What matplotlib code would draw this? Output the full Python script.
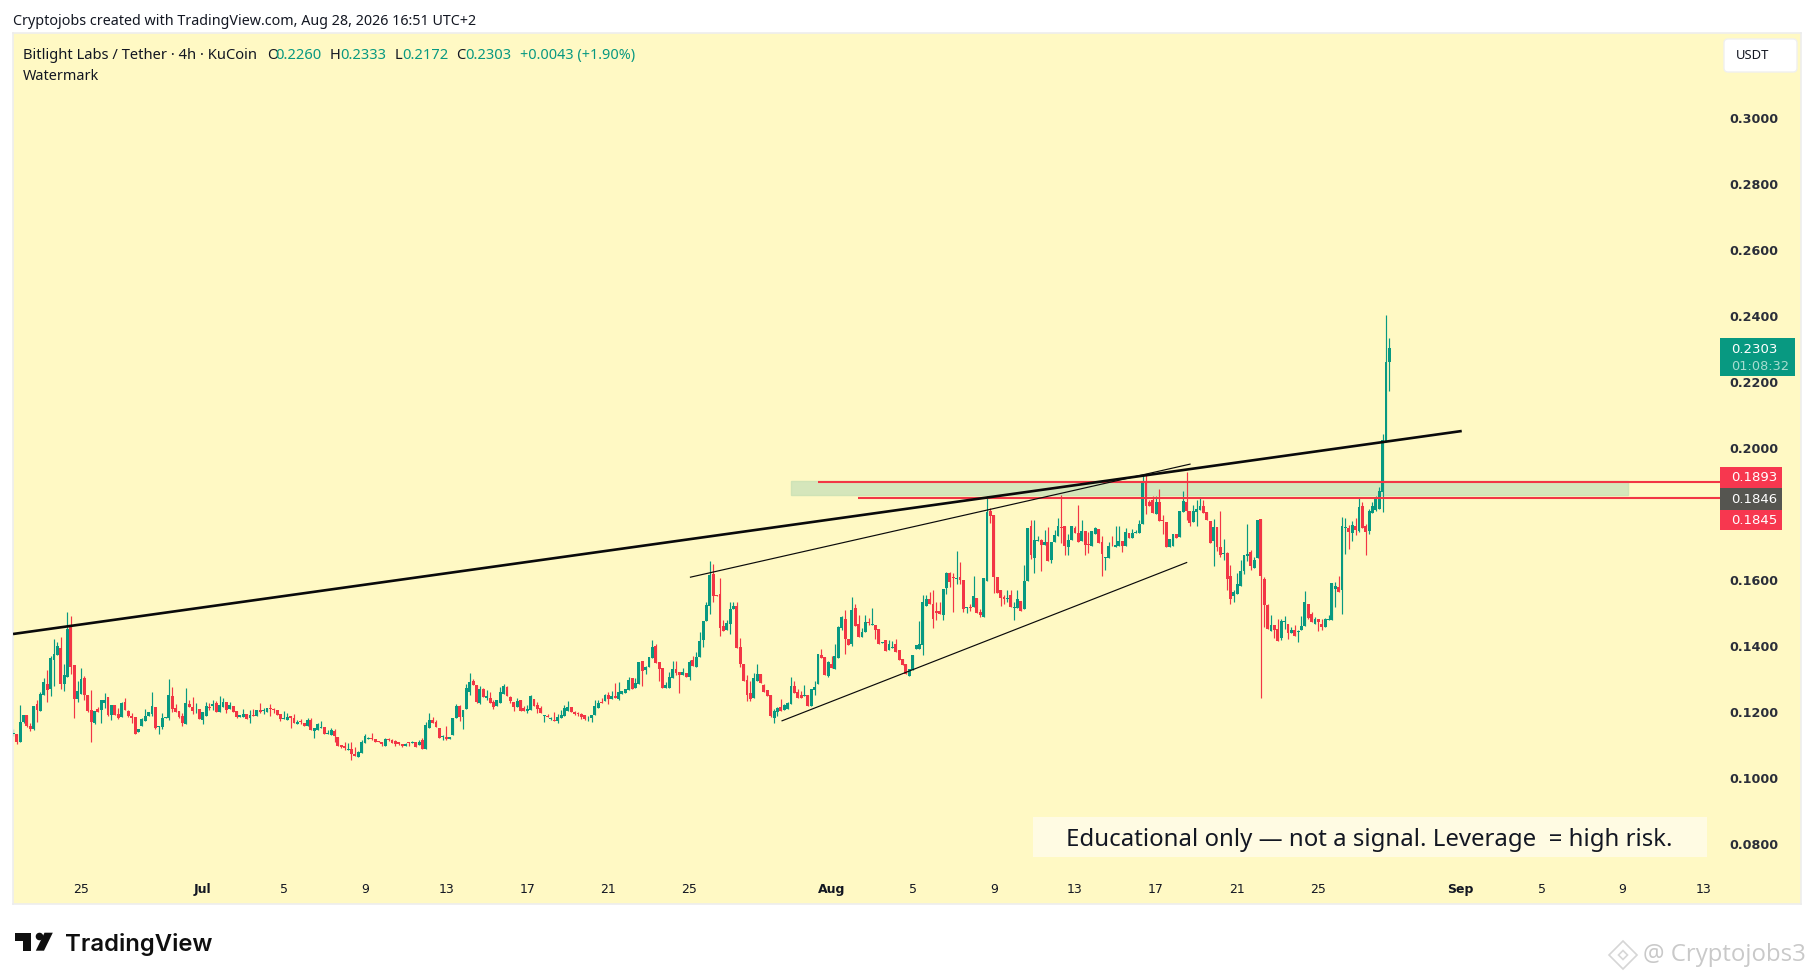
import numpy as np
import matplotlib
matplotlib.use("Agg")
import matplotlib.pyplot as plt
from matplotlib.patches import Rectangle, Polygon, Circle, FancyBboxPatch

# 4h candles, prices in units of 0.0001
OPENS = [
    1133,1133,1110,1168,1190,1157,1148,1224,1203,1251,
    1284,1269,1357,1373,1393,1284,1304,1461,1341,1239,
    1254,1302,1251,1206,1165,1209,1206,1228,1245,1190,
    1221,1193,1184,1230,1203,1188,1184,1139,1157,1171,
    1187,1193,1216,1155,1155,1182,1181,1248,1211,1203,
    1187,1163,1224,1215,1207,1209,1175,1187,1216,1218,
    1227,1199,1215,1230,1208,1218,1201,1184,1184,1193,
    1181,1190,1187,1206,1202,1199,1212,1209,1206,1193,
    1178,1175,1187,1181,1164,1172,1167,1157,1175,1143,
    1145,1152,1154,1134,1130,1142,1124,1099,1096,1085,
    1087,1072,1063,1075,1105,1119,1121,1118,1112,1107,
    1096,1118,1115,1112,1108,1102,1096,1108,1106,1107,
    1099,1115,1087,1151,1175,1169,1151,1125,1123,1118,
    1130,1181,1218,1184,1209,1260,1293,1281,1227,1269,
    1242,1242,1230,1218,1227,1254,1275,1245,1229,1215,
    1236,1212,1202,1205,1239,1221,1212,1187,1187,1178,
    1175,1172,1182,1187,1202,1215,1199,1196,1193,1190,
    1183,1181,1190,1212,1230,1233,1251,1240,1248,1239,
    1254,1256,1266,1302,1272,1284,1354,1327,1336,1363,
    1399,1351,1333,1272,1272,1302,1330,1321,1312,1318,
    1305,1357,1336,1366,1418,1475,1521,1618,1554,1557,
    1461,1448,1466,1512,1521,1395,1345,1296,1257,1242,
    1293,1315,1281,1266,1251,1182,1199,1215,1205,1209,
    1224,1278,1260,1251,1249,1251,1218,1266,1284,1372,
    1366,1309,1345,1330,1363,1454,1481,1421,1405,1515,
    1466,1427,1442,1472,1463,1463,1451,1408,1418,1387,
    1394,1405,1387,1359,1345,1309,1327,1390,1390,1402,
    1521,1542,1528,1505,1505,1493,1575,1621,1608,1601,
    1608,1599,1516,1518,1518,1545,1502,1487,1596,1808,
    1796,1608,1569,1548,1543,1554,1516,1515,1536,1512,
    1596,1763,1666,1718,1721,1705,1715,1660,1715,1733,
    1760,1763,1699,1721,1757,1742,1718,1748,1709,1702,
    1739,1754,1715,1667,1666,1703,1700,1703,1718,1702,
    1742,1727,1741,1742,1769,1899,1836,1842,1799,1836,
    1781,1775,1699,1702,1739,1730,1805,1836,1808,1775,
    1805,1812,1824,1805,1778,1718,1760,1700,1678,1681,
    1612,1551,1557,1581,1627,1672,1684,1636,1666,1784,
    1603,1524,1445,1463,1451,1424,1473,1466,1439,1448,
    1443,1447,1460,1527,1496,1466,1481,1466,1457,1479,
    1478,1572,1578,1569,1758,1757,1742,1763,1748,1824,
    1763,1748,1803,1812,1815,1866,2018,2260,
]
HIGHS = [
    1148,1133,1221,1190,1190,1165,1218,1236,1261,1302,
    1327,1369,1420,1411,1426,1345,1502,1490,1341,1293,
    1333,1309,1251,1266,1203,1216,1236,1256,1245,1221,
    1221,1211,1230,1242,1206,1195,1184,1148,1180,1209,
    1199,1260,1216,1157,1195,1184,1299,1275,1224,1203,
    1195,1272,1236,1245,1226,1209,1199,1230,1226,1236,
    1233,1248,1242,1230,1230,1218,1201,1190,1209,1193,
    1206,1209,1206,1226,1211,1212,1224,1212,1206,1193,
    1202,1195,1187,1193,1175,1178,1167,1181,1181,1151,
    1165,1172,1154,1145,1151,1148,1124,1099,1109,1105,
    1109,1093,1080,1115,1133,1125,1136,1118,1112,1109,
    1121,1121,1118,1115,1108,1102,1105,1108,1112,1107,
    1115,1121,1169,1196,1183,1175,1151,1130,1157,1124,
    1181,1224,1221,1206,1284,1318,1299,1281,1278,1272,
    1266,1260,1236,1236,1276,1284,1278,1248,1229,1242,
    1236,1218,1221,1251,1239,1230,1218,1189,1193,1185,
    1199,1193,1206,1221,1233,1215,1202,1199,1196,1190,
    1187,1190,1236,1236,1242,1254,1260,1263,1287,1290,
    1263,1269,1305,1302,1302,1351,1354,1339,1366,1418,
    1407,1351,1333,1290,1321,1354,1354,1321,1333,1318,
    1357,1369,1381,1442,1475,1533,1657,1648,1554,1605,
    1478,1478,1533,1533,1533,1424,1345,1312,1293,1317,
    1345,1315,1284,1266,1251,1208,1215,1239,1224,1230,
    1305,1293,1269,1263,1281,1251,1269,1293,1375,1390,
    1366,1354,1369,1405,1460,1490,1508,1421,1548,1527,
    1493,1453,1493,1484,1515,1463,1451,1411,1418,1418,
    1415,1421,1387,1359,1345,1331,1372,1402,1475,1554,
    1554,1563,1569,1533,1533,1572,1624,1624,1621,1687,
    1654,1599,1518,1527,1612,1545,1512,1605,1854,1818,
    1796,1608,1569,1554,1569,1569,1533,1569,1536,1645,
    1757,1781,1781,1733,1724,1751,1761,1715,1751,1787,
    1857,1763,1739,1763,1763,1827,1781,1748,1745,1748,
    1759,1754,1733,1669,1715,1733,1763,1763,1718,1757,
    1742,1754,1751,1781,1918,1921,1842,1854,1854,1875,
    1796,1775,1724,1739,1739,1808,1869,1927,1808,1827,
    1842,1849,1842,1805,1778,1784,1760,1809,1724,1684,
    1645,1569,1620,1660,1675,1769,1690,1669,1781,1784,
    1610,1527,1493,1463,1481,1481,1490,1466,1457,1463,
    1448,1490,1566,1527,1502,1487,1481,1481,1484,1493,
    1590,1593,1612,1790,1787,1766,1778,1787,1851,1836,
    1769,1815,1836,1854,1881,2042,2402,2333,
]
LOWS = [
    1128,1103,1110,1165,1155,1143,1145,1169,1203,1251,
    1231,1249,1278,1373,1269,1264,1304,1315,1182,1231,
    1254,1236,1199,1110,1163,1199,1167,1211,1187,1175,
    1190,1179,1184,1206,1184,1165,1133,1139,1157,1171,
    1187,1187,1148,1133,1147,1182,1175,1199,1199,1181,
    1157,1163,1215,1193,1195,1178,1163,1187,1206,1206,
    1199,1199,1215,1197,1208,1198,1181,1184,1184,1178,
    1166,1188,1187,1195,1193,1199,1187,1196,1190,1172,
    1178,1175,1151,1166,1164,1163,1158,1157,1145,1121,
    1145,1152,1133,1134,1130,1109,1096,1089,1084,1085,
    1054,1066,1063,1075,1105,1119,1115,1109,1109,1096,
    1096,1112,1106,1096,1099,1093,1096,1097,1106,1093,
    1099,1087,1087,1151,1166,1154,1121,1115,1115,1118,
    1130,1181,1172,1148,1209,1251,1280,1228,1224,1245,
    1236,1227,1209,1218,1227,1254,1248,1228,1202,1215,
    1202,1202,1197,1205,1218,1195,1196,1169,1185,1175,
    1173,1166,1182,1187,1202,1199,1190,1187,1178,1175,
    1172,1169,1190,1212,1227,1233,1224,1240,1242,1236,
    1254,1256,1266,1269,1272,1284,1278,1315,1336,1363,
    1348,1293,1272,1272,1272,1302,1312,1257,1312,1305,
    1296,1339,1336,1366,1396,1475,1496,1533,1551,1430,
    1445,1448,1436,1512,1393,1337,1293,1233,1233,1242,
    1293,1287,1260,1248,1184,1166,1187,1202,1205,1209,
    1224,1257,1242,1242,1249,1218,1218,1251,1284,1363,
    1312,1305,1333,1330,1363,1448,1375,1402,1399,1460,
    1427,1427,1442,1463,1463,1421,1405,1408,1384,1387,
    1394,1381,1357,1342,1315,1309,1327,1390,1390,1372,
    1521,1527,1454,1478,1496,1479,1557,1577,1502,1587,
    1587,1502,1499,1505,1518,1499,1487,1487,1596,1772,
    1560,1560,1521,1527,1533,1518,1478,1515,1505,1512,
    1596,1663,1621,1718,1627,1705,1657,1651,1715,1733,
    1711,1675,1675,1721,1742,1715,1718,1675,1681,1702,
    1739,1712,1612,1630,1666,1701,1700,1703,1684,1702,
    1727,1727,1741,1742,1769,1799,1824,1802,1799,1778,
    1739,1699,1699,1702,1727,1730,1805,1781,1763,1775,
    1763,1812,1802,1781,1712,1642,1687,1668,1660,1569,
    1527,1533,1557,1581,1618,1657,1630,1636,1666,1242,
    1457,1451,1445,1424,1415,1418,1451,1421,1439,1430,
    1412,1447,1460,1481,1472,1466,1445,1448,1457,1479,
    1478,1518,1563,1496,1678,1693,1718,1736,1745,1757,
    1675,1739,1803,1809,1815,1805,2018,2172,
]
CLOSES = [
    1136,1109,1169,1190,1157,1149,1218,1206,1254,1290,
    1267,1363,1375,1399,1284,1312,1451,1337,1239,1264,
    1299,1251,1201,1169,1203,1199,1236,1236,1190,1221,
    1190,1181,1228,1206,1187,1181,1133,1148,1178,1187,
    1199,1218,1150,1157,1181,1184,1251,1210,1199,1184,
    1165,1227,1215,1202,1209,1178,1199,1218,1213,1224,
    1199,1221,1230,1206,1221,1198,1184,1190,1193,1178,
    1190,1188,1206,1200,1205,1212,1209,1206,1190,1178,
    1181,1184,1181,1166,1169,1169,1158,1175,1145,1151,
    1163,1153,1133,1136,1146,1127,1096,1093,1089,1087,
    1072,1066,1078,1109,1127,1121,1118,1109,1109,1103,
    1118,1115,1106,1103,1103,1096,1103,1106,1109,1093,
    1110,1087,1160,1175,1166,1154,1121,1127,1118,1124,
    1181,1218,1184,1206,1272,1290,1280,1230,1269,1245,
    1248,1227,1215,1236,1260,1278,1248,1233,1215,1233,
    1202,1202,1207,1248,1218,1209,1196,1189,1185,1181,
    1173,1184,1190,1212,1215,1199,1193,1193,1184,1178,
    1185,1190,1218,1227,1227,1251,1239,1248,1242,1260,
    1263,1269,1296,1269,1287,1351,1324,1336,1366,1396,
    1348,1330,1272,1281,1305,1330,1318,1312,1321,1305,
    1351,1339,1366,1415,1475,1524,1615,1551,1551,1454,
    1445,1468,1512,1521,1393,1345,1293,1251,1239,1302,
    1315,1287,1260,1248,1187,1202,1212,1202,1221,1227,
    1278,1257,1242,1242,1251,1218,1269,1275,1375,1363,
    1312,1351,1333,1369,1458,1487,1421,1402,1508,1460,
    1427,1442,1472,1469,1466,1448,1405,1411,1384,1405,
    1396,1381,1357,1342,1315,1331,1372,1402,1405,1532,
    1542,1527,1481,1499,1496,1572,1621,1593,1606,1605,
    1599,1512,1518,1515,1551,1499,1493,1605,1805,1793,
    1608,1560,1545,1542,1545,1518,1518,1542,1505,1596,
    1757,1675,1721,1721,1705,1715,1657,1715,1736,1763,
    1757,1702,1721,1763,1742,1715,1748,1705,1704,1748,
    1757,1712,1678,1669,1702,1701,1705,1718,1702,1745,
    1727,1742,1746,1769,1899,1824,1824,1802,1836,1778,
    1778,1699,1724,1739,1727,1808,1839,1808,1772,1808,
    1815,1824,1802,1781,1712,1760,1699,1675,1680,1603,
    1542,1563,1587,1627,1675,1678,1642,1660,1781,1612,
    1524,1451,1463,1448,1415,1475,1475,1439,1448,1430,
    1445,1460,1533,1484,1472,1481,1472,1457,1481,1481,
    1590,1581,1563,1763,1760,1745,1766,1751,1821,1757,
    1745,1809,1824,1851,1869,2024,2260,2303,
]

# x axis counts 4h bars from Jun 25
LAST_BAR = 387
DATE_TICKS = [0, 36, 60, 84, 108, 132, 156, 180, 222, 246, 270, 294, 318, 342, 366, 408, 432, 456, 480]
DATE_LABELS = ["25", "Jul", "5", "9", "13", "17", "21", "25", "Aug", "5", "9", "13", "17", "21", "25", "Sep", "5", "9", "13"]
PRICE_TICKS = [0.08, 0.10, 0.12, 0.14, 0.16, 0.18, 0.20, 0.22, 0.24, 0.26, 0.28, 0.30]
HIDDEN_TICKS = [0.18]

# drawings: (bar, price) ends
MAIN_TREND = [(-20.1, 0.14358), (408.4, 0.20509)]
UPPER_CHANNEL = [(180.1, 0.16076), (328.2, 0.19509)]
LOWER_CHANNEL = [(207.2, 0.11721), (327.2, 0.16530)]
ZONE_BARS = (210.0, 457.6)
ZONE_PRICES = (0.1857, 0.18994)
RESIST_LINE = (218.0, 484.8, 0.1896)
SUPPORT_LINE = (229.8, 484.8, 0.1848)

GREEN = "#089981"
RED = "#F23645"
PANE = "#FFF9C4"
INK = "#131722"
W, H = 1814, 980

opens = np.array(OPENS) * 1e-4
highs = np.array(HIGHS) * 1e-4
lows = np.array(LOWS) * 1e-4
closes = np.array(CLOSES) * 1e-4
assert len(opens) == len(highs) == len(lows) == len(closes)

bars = np.arange(len(opens)) - (len(opens) - 1) + LAST_BAR
colors = np.where(closes >= opens, GREEN, RED)

fig = plt.figure(figsize=(W / 100, H / 100), dpi=100, facecolor="white")

# pane spans pixels x 13-1800.5, y 33.5-904
ax = fig.add_axes([13 / W, 1 - 904 / H, (1800.5 - 13) / W, (904 - 33.5) / H], zorder=1)
ax.set_facecolor(PANE)
ax.set_xlim(-20.11, 508.6)
ax.set_ylim(0.06176, 0.32555)
for side in ax.spines.values():
    side.set_color("#EDEDED")
    side.set_linewidth(1.2)

ax.add_patch(Rectangle((ZONE_BARS[0], ZONE_PRICES[0]), ZONE_BARS[1] - ZONE_BARS[0],
                       ZONE_PRICES[1] - ZONE_PRICES[0], facecolor="#D5E6BB",
                       edgecolor="#CFE3B6", lw=1, zorder=1))

ax.vlines(bars, lows, highs, colors=colors, lw=0.85, zorder=2)
ax.bar(bars, np.abs(closes - opens), bottom=np.minimum(opens, closes), width=0.85,
       color=colors, linewidth=0, zorder=3)

ax.hlines(RESIST_LINE[2], RESIST_LINE[0], RESIST_LINE[1], colors=RED, lw=1.5, zorder=4)
ax.hlines(SUPPORT_LINE[2], SUPPORT_LINE[0], SUPPORT_LINE[1], colors=RED, lw=1.5, zorder=4)

for line, width in [(UPPER_CHANNEL, 0.85), (LOWER_CHANNEL, 0.85), (MAIN_TREND, 1.9)]:
    ax.plot([p[0] for p in line], [p[1] for p in line], color="#0A0A0A", lw=width,
            solid_capstyle="butt", zorder=5)

ax.set_xticks(DATE_TICKS)
ax.set_xticklabels(DATE_LABELS, fontfamily="DejaVu Sans", fontsize=9, color=INK)
ax.tick_params(axis="x", length=0, pad=-15)
for label in ax.get_xticklabels():
    if label.get_text() in ("Jul", "Aug", "Sep"):
        label.set_fontweight("bold")

shown = [t for t in PRICE_TICKS if t not in HIDDEN_TICKS]
ax.yaxis.tick_right()
ax.set_yticks(shown)
ax.set_yticklabels([f"{t:.4f}" for t in shown], fontfamily="DejaVu Sans", fontsize=9.2,
                   fontweight="bold", color="#2A2E39")
ax.tick_params(axis="y", length=0, pad=-51.5)

# everything around the chart, in pixel coordinates
top = fig.add_axes([0, 0, 1, 1], zorder=2)
top.set_xlim(0, W)
top.set_ylim(H, 0)
top.axis("off")
top.patch.set_alpha(0)


def put(x, y, s, color=INK, size=10.3, family="Noto Sans", **kw):
    kw.setdefault("va", "center")
    return top.text(x, y, s, color=color, fontsize=size, family=family, **kw)


put(13, 21.5, "Cryptojobs created with TradingView.com, Aug 28, 2026 16:51 UTC+2")
put(23, 55.5, "Bitlight Labs / Tether · 4h · KuCoin", size=10.6)
put(23, 76, "Watermark", size=10.4)
for x_key, key, x_val, val in [(267, "O", 275, "0.2260"), (330, "H", 340, "0.2333"),
                               (394.5, "L", 402.5, "0.2172"), (456, "C", 465, "0.2303")]:
    put(x_key, 55.5, key, size=10.6)
    put(x_val, 55.5, val, color=GREEN, size=10.6)
put(519.5, 55.5, "+0.0043 (+1.90%)", color=GREEN, size=10.4)

# currency button
top.add_patch(FancyBboxPatch((1724, 39), 73, 33, boxstyle="round,pad=0,rounding_size=4",
                             facecolor="white", edgecolor="#F0F0F0", lw=1))
put(1753, 55.5, "USDT", size=9.4, ha="center")

# price tags
top.add_patch(Rectangle((1720, 338), 75, 37.7, facecolor=GREEN, lw=0))
put(1731, 349, "0.2303", color="white", size=9.5, family="DejaVu Sans")
put(1731, 366, "01:08:32", color="#A8DDD0", size=9.3, family="DejaVu Sans")
for y0, y1, face, txt in [(467, 488, "#F7374F", "0.1893"), (488, 510, "#555550", "0.1846"),
                          (510, 530, "#F7374F", "0.1845")]:
    top.add_patch(Rectangle((1720, y0), 62, y1 - y0, facecolor=face, lw=0))
    put(1731, (y0 + y1) / 2, txt, color="white", size=9.5, family="DejaVu Sans")

# note box
top.add_patch(Rectangle((1033, 817), 674, 40, facecolor="#FFFBE3", lw=0))
put(1369, 839.5, "Educational only — not a signal. Leverage  = high risk.", size=17.25,
    color="#131722", ha="center")

# TradingView logo
top.add_patch(Polygon([(15.3, 932.7), (30.7, 932.7), (30.7, 950.7), (23, 950.7), (23, 941), (15.3, 941)],
                      facecolor="#0F0F0F", lw=0))
top.add_patch(Circle((39.5, 936.5), 3.8, facecolor="#0F0F0F", lw=0))
top.add_patch(Polygon([(44.5, 932.7), (52.8, 932.7), (44, 950.7), (35.8, 950.7)], facecolor="#0F0F0F", lw=0))
put(65, 950.7, "TradingView", color="#0F0F0F", size=17.2, family="Inter", fontweight="semibold", va="baseline")

# faint watermark, bottom right
for cx, cy, r in [(1623, 955, 14), (1623, 955, 4.5)]:
    top.add_patch(Polygon([(cx - r, cy), (cx, cy - r), (cx + r, cy), (cx, cy + r)], closed=True,
                          fill=False, edgecolor="#D6D6D6", lw=1.2))
put(1643, 955, "@ Cryptojobs3", color="#C9C9C9", size=17.3, family="Open Sans")

fig.savefig("out.png", dpi=100)
plt.close(fig)
